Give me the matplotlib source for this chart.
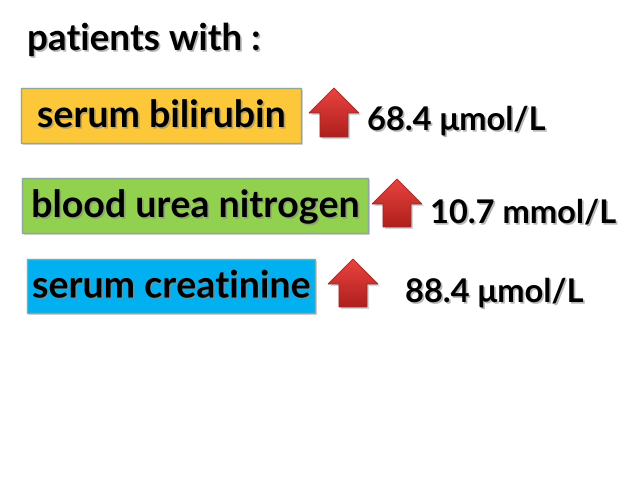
import numpy as np
import matplotlib
matplotlib.use("Agg")
import matplotlib.pyplot as plt
import matplotlib.patches as mpatches
import matplotlib.patheffects as pe

# =========================
# 数据
# =========================
title_text = "patients with :"
labels = ["serum bilirubin", "blood urea nitrogen", "serum creatinine"]
values = ["68.4 \u03bcmol/L", "10.7 mmol/L", "88.4 \u03bcmol/L"]
box_colors = ["#FCC83A", "#92D050", "#00B0F0"]

# 布局 (像素, y 向下)
box_x0 = [21, 22, 27]
box_x1 = [301, 368, 315]
box_y0 = [88, 178, 259]
box_y1 = [143, 233, 313]
arrow_x = [334, 397, 353]      # 箭头中心 x
arrow_top = [88, 179, 259]
arrow_bot = [137, 227, 307]
value_x = [367, 430, 405]
value_base = [130, 223, 302]

W, H = 638, 479
font = "Lato"

fig = plt.figure(figsize=(W / 100, H / 100), dpi=100)
ax = fig.add_axes([0, 0, 1, 1])
ax.set_xlim(0, W)
ax.set_ylim(H, 0)
ax.axis("off")

shadow = [pe.SimplePatchShadow(offset=(1.2, -1.2), shadow_rgbFace="#888888", alpha=0.6),
          pe.Normal()]
box_shadow = [pe.SimplePatchShadow(offset=(1.5, -1.5), shadow_rgbFace="#999999", alpha=0.4),
              pe.Normal()]

ax.text(27, 50, title_text, fontsize=26.5, fontweight="bold", family=font,
        ha="left", va="baseline", color="black", path_effects=shadow)

cmap = matplotlib.colors.LinearSegmentedColormap.from_list("r", ["#EA4440", "#B0201E"])
grad = np.linspace(0, 1, 64).reshape(-1, 1)

for i in range(len(labels)):
    # 彩色框
    rect = mpatches.Rectangle((box_x0[i], box_y0[i]), box_x1[i] - box_x0[i],
                              box_y1[i] - box_y0[i], facecolor=box_colors[i],
                              edgecolor="#8FA89A", linewidth=1.0, path_effects=box_shadow)
    ax.add_patch(rect)
    ax.text((box_x0[i] + box_x1[i]) / 2, (box_y0[i] + box_y1[i]) / 2 + 11.5, labels[i],
            fontsize=27, fontweight="bold", family=font, ha="center", va="baseline",
            color="black", path_effects=shadow, zorder=3)

    # 红色向上箭头
    h = arrow_bot[i] - arrow_top[i]
    kw = dict(width=28, head_width=50, head_length=25, length_includes_head=True)
    back = mpatches.FancyArrow(arrow_x[i], arrow_bot[i], 0, -h, facecolor="#B0201E",
                               edgecolor="none", path_effects=box_shadow, zorder=1, **kw)
    ax.add_patch(back)
    im = ax.imshow(grad, cmap=cmap, extent=(arrow_x[i] - 26, arrow_x[i] + 26,
                                            arrow_bot[i], arrow_top[i]),
                   aspect="auto", zorder=1.5)
    im.set_clip_path(back)
    edge = mpatches.FancyArrow(arrow_x[i], arrow_bot[i], 0, -h, facecolor="none",
                               edgecolor="#9A2A28", linewidth=0.6, zorder=2, **kw)
    ax.add_patch(edge)

    # 数值
    ax.text(value_x[i], value_base[i], values[i], fontsize=23.5, fontweight="bold",
            family=font, ha="left", va="baseline", color="black", path_effects=shadow)

ax.set_xlim(0, W)
ax.set_ylim(H, 0)
fig.savefig("out.png", dpi=100)
